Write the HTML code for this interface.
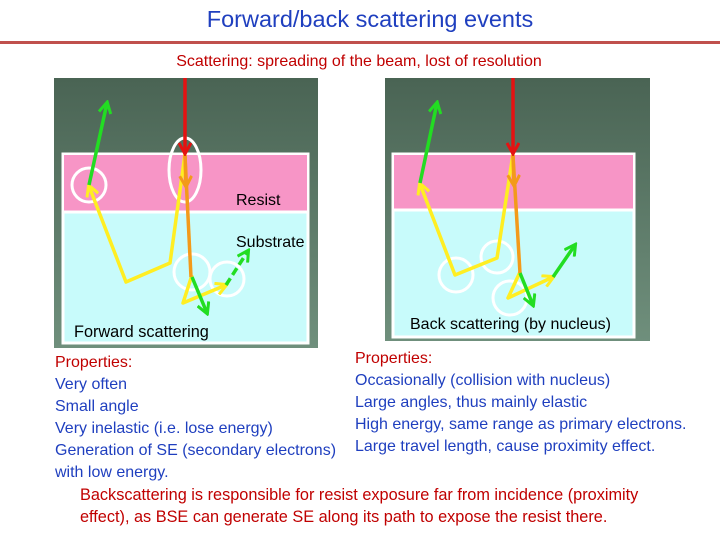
<!DOCTYPE html>
<html><head><meta charset="utf-8"><style>
body{margin:0;width:720px;height:540px;background:#fff;position:relative;overflow:hidden;font-family:"Liberation Sans",sans-serif}
.t{position:absolute;white-space:nowrap}
</style></head><body>
<div class="t" style="left:0;width:740px;text-align:center;top:6px;font-size:23.5px;color:#1f3fbf">Forward/back scattering events</div>
<div style="position:absolute;left:0;top:41px;width:720px;height:3px;background:#c0504d"></div>
<div class="t" style="left:0;width:718px;text-align:center;top:53px;font-size:16px;color:#c00000">Scattering: spreading of the beam, lost of resolution</div>
<svg width="720" height="540" style="position:absolute;left:0;top:0">
<defs>
<linearGradient id="bg" x1="0" y1="0" x2="0" y2="1"><stop offset="0" stop-color="#4a6454"/><stop offset="1" stop-color="#6f8f7c"/></linearGradient>
<marker id="ag" markerWidth="14" markerHeight="14" refX="11" refY="7" orient="auto" markerUnits="userSpaceOnUse"><path d="M1,1 L12,7 L1,13" fill="none" stroke="#22dd22" stroke-width="3"/></marker>
<marker id="ay" markerWidth="14" markerHeight="14" refX="11" refY="7" orient="auto" markerUnits="userSpaceOnUse"><path d="M1,1 L12,7 L1,13" fill="none" stroke="#ffee22" stroke-width="3"/></marker>
<marker id="ao" markerWidth="14" markerHeight="14" refX="11" refY="7" orient="auto" markerUnits="userSpaceOnUse"><path d="M1,1 L12,7 L1,13" fill="none" stroke="#f39a1a" stroke-width="3"/></marker>
<marker id="arr" markerWidth="14" markerHeight="14" refX="11" refY="7" orient="auto" markerUnits="userSpaceOnUse"><path d="M1,1 L12,7 L1,13" fill="none" stroke="#e51212" stroke-width="3"/></marker>
</defs>
<rect x="54" y="78" width="264" height="270" fill="url(#bg)"/>
<rect x="63" y="154" width="245" height="189" fill="#c8fbfb" stroke="#fff" stroke-width="3"/>
<rect x="64" y="155" width="243" height="57" fill="#f795c6"/>
<line x1="63" y1="212" x2="308" y2="212" stroke="#fff" stroke-width="3"/>
<g fill="none" stroke="#fff" stroke-width="3">
<ellipse cx="185" cy="170" rx="16" ry="32"/>
<circle cx="89" cy="185" r="17"/><circle cx="192" cy="272" r="18"/><circle cx="227" cy="279" r="17"/>
</g>
<g fill="none" stroke-width="3.5" stroke-linejoin="round">
<polyline points="185,154 170,263 126,282 89,186" stroke="#ffee22" marker-end="url(#ay)"/>
<polyline points="192,275 183,303 226,285" stroke="#ffee22" marker-end="url(#ay)"/>
<line x1="185" y1="156" x2="191" y2="277" stroke="#f39a1a"/>
<line x1="185" y1="155" x2="186" y2="186" stroke="#f39a1a" marker-end="url(#ao)"/>
<line x1="185" y1="78" x2="185" y2="153" stroke="#e51212" marker-end="url(#arr)"/>
<line x1="89" y1="185" x2="107" y2="103" stroke="#22dd22" marker-end="url(#ag)"/>
<line x1="192" y1="277" x2="207" y2="313" stroke="#22dd22" marker-end="url(#ag)"/>
<line x1="226" y1="285" x2="248" y2="251" stroke="#22dd22" stroke-dasharray="8,4" marker-end="url(#ag)"/>
</g>
<rect x="385" y="78" width="265" height="263" fill="url(#bg)"/>
<rect x="393" y="154" width="241" height="183" fill="#c8fbfb" stroke="#fff" stroke-width="3"/>
<rect x="394" y="155" width="239" height="55" fill="#f795c6"/>
<line x1="393" y1="210" x2="634" y2="210" stroke="#fff" stroke-width="3"/>
<g fill="none" stroke="#fff" stroke-width="3">
<circle cx="456" cy="275" r="17"/><circle cx="497" cy="257" r="16"/><circle cx="510" cy="298" r="17"/>
</g>
<g fill="none" stroke-width="3.5" stroke-linejoin="round">
<polyline points="513,154 497,258 455,275 420,184" stroke="#ffee22" marker-end="url(#ay)"/>
<polyline points="520,272 508,298 553,277" stroke="#ffee22" marker-end="url(#ay)"/>
<line x1="513" y1="156" x2="520" y2="273" stroke="#f39a1a"/>
<line x1="513" y1="155" x2="514" y2="185" stroke="#f39a1a" marker-end="url(#ao)"/>
<line x1="513" y1="78" x2="513" y2="153" stroke="#e51212" marker-end="url(#arr)"/>
<line x1="420" y1="183" x2="437" y2="103" stroke="#22dd22" marker-end="url(#ag)"/>
<line x1="520" y1="273" x2="533" y2="305" stroke="#22dd22" marker-end="url(#ag)"/>
<line x1="553" y1="277" x2="575" y2="245" stroke="#22dd22" marker-end="url(#ag)"/>
</g>
</svg>
<div class="t" style="left:236px;top:192px;font-size:16px;color:#000">Resist</div>
<div class="t" style="left:236px;top:234px;font-size:16px;color:#000">Substrate</div>
<div class="t" style="left:74px;top:323px;font-size:16.3px;color:#000">Forward scattering</div>
<div class="t" style="left:410px;top:316px;font-size:16px;color:#000">Back scattering (by nucleus)</div>
<div class="t" style="left:55px;top:352px;font-size:16px;line-height:22px;color:#1f3fbf"><span style="color:#c00000">Properties:</span><br>Very often<br>Small angle<br>Very inelastic (i.e. lose energy)<br>Generation of SE (secondary electrons)<br>with low energy.</div>
<div class="t" style="left:355px;top:348px;font-size:16px;line-height:22px;color:#1f3fbf"><span style="color:#c00000">Properties:</span><br>Occasionally (collision with nucleus)<br>Large angles, thus mainly elastic<br>High energy, same range as primary electrons.<br>Large travel length, cause proximity effect.</div>
<div class="t" style="left:80px;top:484px;font-size:16.3px;line-height:22px;color:#c00000">Backscattering is responsible for resist exposure far from incidence (proximity<br>effect), as BSE can generate SE along its path to expose the resist there.</div>
</body></html>
